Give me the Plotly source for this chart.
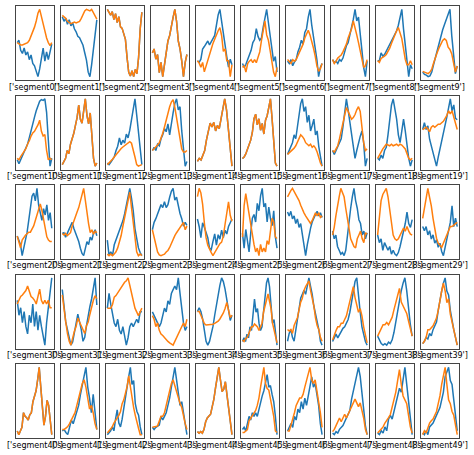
import plotly.graph_objects as go

segment_labels = ["['segment%d']" % i for i in range(50)]

blue_series = [
    [52,55,42,38,45,36,40,30,36,25,22,15,8,18,30,45,28,40,30,42,50],
    [86,80,84,76,82,74,78,70,66,60,58,52,48,38,28,12,6,22,40,62,82],
    [96,92,88,93,82,90,78,86,72,70,62,55,30,10,5,12,4,14,8,30,70,92],
    [40,45,32,38,15,28,10,25,35,55,62,75,85,95,80,55,45,30,10,28,38],
    [30,28,32,45,48,52,55,50,55,58,62,75,88,95,78,60,50,35,22,32,25],
    [25,20,24,30,34,42,52,56,70,60,55,58,72,82,95,78,62,45,28,34,14],
    [28,25,30,22,27,30,40,46,55,50,65,70,85,95,75,60,45,30,8,20,25],
    [30,26,28,25,30,28,32,40,48,52,62,70,82,95,80,85,60,40,20,8,28],
    [30,30,40,36,38,42,46,50,55,58,62,68,75,85,95,70,50,30,10,25,20],
    [12,9,8,6,7,12,22,32,42,52,60,68,75,82,88,95,60,35,10,20],
    [20,15,20,25,30,34,40,48,58,68,74,82,88,94,96,95,97,80,45,12,22],
    [12,16,20,30,26,38,44,52,62,72,88,70,65,80,96,75,64,78,50,20,10,14],
    [12,10,13,16,20,28,34,45,36,42,38,50,45,55,70,85,96,75,55,30,10],
    [30,34,30,38,36,45,50,58,54,64,50,66,78,90,96,82,86,55,32,10,16],
    [16,20,18,25,30,44,55,65,60,66,55,62,58,70,85,96,82,60,30,10],
    [18,20,24,30,34,42,52,70,76,62,70,55,64,50,68,74,85,96,70,40,12,8],
    [25,30,34,40,50,45,60,75,90,96,80,86,66,75,55,62,70,50,55,35,20,10],
    [30,25,30,35,40,45,60,75,96,82,65,50,32,20,30,40,48,55,40,10,20],
    [20,18,24,20,30,34,50,70,88,96,84,70,50,40,55,70,55,35,20,10,18],
    [55,64,55,60,42,32,22,14,6,18,28,38,48,62,72,84,96,80,88,70,68],
    [35,30,24,10,20,28,40,55,70,86,90,80,96,75,65,55,70,62,75,55,65,45],
    [35,36,30,35,40,46,50,42,36,30,24,15,8,5,14,24,20,30,26,36,40,32],
    [30,10,15,10,24,30,36,42,48,55,64,74,86,97,84,68,45,30,20,14,10],
    [40,50,55,62,68,74,70,78,70,74,84,92,96,80,84,70,62,55,45,50,46],
    [55,45,30,50,44,36,30,16,14,25,35,20,34,28,40,30,40,35,45,50,55],
    [35,15,40,25,10,35,55,60,50,75,65,85,95,70,75,50,70,55,45,65,30,15],
    [65,60,66,56,60,50,56,45,50,35,20,8,22,34,44,52,58,62,66,60,64,58],
    [40,30,35,20,15,10,12,8,15,35,55,70,85,96,80,70,55,50,35,40,30,38],
    [35,25,30,15,25,20,15,20,10,15,10,8,12,20,30,40,50,65,50,45,55],
    [50,45,50,40,45,35,40,30,34,25,30,20,15,25,34,44,55,75,50,60,50],
    [65,45,55,35,50,30,20,45,35,60,30,50,25,45,30,15,5,35,55,80,95],
    [82,60,40,30,20,10,14,25,40,50,40,30,15,20,35,50,60,70,85,97,62],
    [55,75,60,45,35,30,40,25,20,30,15,5,15,30,35,30,35,40,35,50,50],
    [50,45,40,35,30,35,45,55,50,65,60,75,80,85,80,96,75,55,35,25,30],
    [50,55,50,40,25,10,5,10,20,30,45,60,75,85,95,90,80,65,50,38,45],
    [10,15,10,20,15,30,25,50,68,50,55,35,25,30,50,75,90,97,85,60,35,40,20,5],
    [15,25,30,20,15,30,45,60,70,75,80,75,85,96,85,75,60,50,40,30,15,10],
    [10,15,20,15,20,25,28,30,35,40,50,65,80,92,97,70,50,30,20,10,5],
    [20,15,10,8,10,8,12,10,15,25,40,55,70,80,90,97,80,55,35,20],
    [12,15,20,18,25,22,30,35,40,55,70,80,90,97,80,75,55,40,30,20,10],
    [10,5,10,15,35,30,28,25,32,35,50,58,65,80,97,70,40,18,30,52,45,25,5],
    [10,12,8,5,15,25,20,28,35,45,60,75,85,97,70,55,35,60,38,12],
    [10,12,15,20,15,30,42,25,20,30,45,60,75,85,97,75,80,50,40,35,20,10],
    [15,12,15,16,18,30,25,30,35,45,55,70,85,97,80,65,45,50,35,20,5],
    [12,10,12,10,15,25,30,32,35,45,55,70,85,97,80,65,68,78,60,45,25,8],
    [12,15,10,20,30,25,35,30,35,30,40,50,58,65,75,87,70,72,60,50,30,5],
    [10,15,20,15,30,25,40,35,50,40,55,45,60,70,84,70,75,60,45,20,5],
    [10,8,12,10,15,18,20,25,30,35,40,55,65,75,85,97,85,60,40,20,8],
    [12,10,15,12,20,15,30,35,30,40,50,60,70,65,85,97,75,55,30,10],
    [12,10,15,10,20,22,25,30,35,40,45,55,65,85,90,97,80,75,55,35,15],
]

orange_series = [
    [52,50,49,49,50,51,52,55,60,66,72,80,90,95,85,75,66,58,52,48,52],
    [88,86,84,80,78,77,78,79,78,79,80,84,90,94,96,95,94,96,92,87,83],
    [96,92,88,93,82,90,78,86,72,70,62,55,30,10,5,12,4,14,8,30,70,92],
    [40,45,32,38,15,28,10,25,35,55,62,75,85,95,80,55,45,30,10,28,38],
    [30,27,22,28,16,24,30,38,45,52,58,62,68,72,62,42,45,30,30,10,25],
    [20,22,14,25,28,30,26,30,26,32,40,55,68,80,62,55,42,28,14,8,20],
    [30,28,25,30,28,30,35,40,45,50,58,63,68,62,55,45,35,22,15,18,25],
    [30,25,28,32,34,36,40,45,50,58,64,70,80,72,62,52,42,30,20,22,30],
    [30,28,33,34,36,38,42,46,52,58,64,68,72,66,58,45,32,25,25,30,25],
    [13,12,11,10,12,16,24,32,38,44,50,54,56,54,45,42,36,22,12,20],
    [22,20,24,27,30,34,40,44,50,54,56,60,64,70,56,50,52,32,20,22,20],
    [12,16,20,30,26,38,44,52,62,72,88,70,65,80,96,75,64,78,50,20,10,14],
    [10,12,14,17,20,23,26,29,31,33,35,36,38,40,38,30,20,10,8,9,10],
    [30,32,34,37,40,45,52,60,70,78,86,92,95,85,72,58,44,32,28,28,30],
    [16,20,18,25,30,44,55,65,60,66,55,62,58,70,85,96,82,60,30,10],
    [18,20,24,30,34,42,52,70,76,62,70,55,64,50,68,74,85,96,70,40,12,8],
    [25,27,28,30,33,36,40,46,50,48,45,40,38,36,38,34,36,33,28,20,14,10],
    [30,28,32,36,45,55,66,78,85,80,74,70,72,76,82,86,80,60,40,30,32],
    [20,25,28,32,35,38,37,36,38,36,37,38,36,38,37,35,32,26,20,18,20],
    [55,57,58,56,52,58,60,58,60,62,62,64,66,70,74,80,76,80,72,62,55],
    [35,28,20,30,34,36,38,40,40,44,48,55,62,70,76,68,58,44,34,30,28,28],
    [35,33,35,32,34,36,45,52,60,64,70,78,86,96,80,62,48,36,40,34,38,36],
    [12,10,12,10,12,15,20,28,36,48,60,72,84,92,72,50,30,15,10,12,10],
    [40,30,20,10,6,5,6,7,10,12,16,22,28,32,36,40,42,46,50,40,45],
    [85,96,90,75,50,30,20,14,10,6,10,15,18,22,24,32,48,66,78,60,52],
    [30,72,88,75,60,45,30,20,10,15,5,20,10,15,10,25,20,35,55,50,30,28],
    [85,90,93,96,92,90,86,80,74,68,64,60,56,52,50,54,60,64,60,64,58,60],
    [35,45,60,75,85,96,90,85,70,55,40,30,25,20,18,30,35,40,30,25,38,36],
    [35,60,80,88,92,96,85,70,50,35,30,28,30,34,38,44,40,46,40,36,35],
    [60,72,86,96,85,75,60,45,36,30,28,25,30,35,40,44,50,50,52,54,55],
    [60,65,70,72,75,78,84,75,70,68,65,60,70,80,65,60,65,60,65,55,55],
    [75,55,40,25,15,10,20,28,34,45,40,35,30,25,35,40,50,60,68,74,70],
    [55,55,55,60,70,72,76,80,84,88,90,92,96,86,75,65,55,50,45,50,55],
    [45,40,30,35,25,20,18,15,12,10,8,6,5,10,15,20,25,30,35,30,40],
    [50,50,45,38,34,32,32,32,33,33,34,35,37,40,44,48,54,62,52,42,45],
    [12,10,14,15,20,25,30,30,34,32,30,25,30,35,50,60,68,75,65,55,35,25,18,8],
    [30,28,30,25,35,40,45,55,65,70,80,85,88,92,80,70,60,45,35,30,20,15],
    [12,20,25,30,30,35,35,40,45,55,65,75,85,70,60,50,55,45,30,20,8],
    [20,25,30,35,35,38,35,40,45,55,65,75,83,65,60,55,50,40,30,20],
    [12,15,20,30,30,32,35,40,45,55,70,80,90,80,65,70,50,40,30,20,10],
    [10,5,10,15,35,30,28,25,32,35,50,58,65,80,97,70,40,18,30,52,45,25,5],
    [12,12,14,16,20,25,30,35,45,55,65,75,80,70,55,40,45,35,20,12],
    [12,15,18,20,25,28,32,35,40,50,55,62,72,86,70,55,45,35,25,18,10,10],
    [15,15,16,17,25,30,30,35,45,55,65,75,80,72,62,55,48,42,30,20,12],
    [12,10,12,10,15,25,30,32,35,45,55,70,85,97,80,65,68,78,60,45,25,8],
    [8,8,10,12,24,28,30,34,38,45,55,70,85,97,75,68,66,55,45,30,10,8],
    [10,10,18,25,35,45,50,55,55,60,70,80,90,97,80,75,80,65,55,35,15],
    [12,15,20,25,30,25,30,35,30,35,40,45,50,55,50,45,50,40,30,15,8],
    [12,15,18,20,25,28,32,36,45,55,65,80,94,75,60,55,50,35,20,12],
    [10,15,12,20,25,28,30,35,40,50,60,75,85,97,75,55,50,40,35,20,10],
]

BLUE = "#1f77b4"
ORANGE = "#ff7f0e"
W, H = 474, 455
NCOL, NROW = 10, 5
left0, pitch_x, box_w = 15.5, 45.05, 38.0
top0, pitch_y, box_h = 6.0, 89.5, 74.0

fig = go.Figure()
layout = dict(width=W, height=H, margin=dict(l=0, r=0, t=0, b=0),
              paper_bgcolor="white", plot_bgcolor="white", showlegend=False)
annotations = []

for k in range(50):
    r, c = divmod(k, NCOL)
    idx = "" if k == 0 else str(k + 1)
    x0 = left0 + c * pitch_x
    top = top0 + r * pitch_y
    xd = [x0 / W, (x0 + box_w) / W]
    yd = [(H - top - box_h) / H, (H - top) / H]
    b = blue_series[k]
    o = orange_series[k]
    xb = [i / (len(b) - 1) for i in range(len(b))]
    xo = [i / (len(o) - 1) for i in range(len(o))]
    fig.add_trace(go.Scatter(x=xb, y=b, mode="lines", line=dict(color=BLUE, width=1.5),
                             xaxis="x" + idx, yaxis="y" + idx, hoverinfo="skip"))
    fig.add_trace(go.Scatter(x=xo, y=o, mode="lines", line=dict(color=ORANGE, width=1.5),
                             xaxis="x" + idx, yaxis="y" + idx, hoverinfo="skip"))
    lo, hi = min(min(b), min(o)), max(max(b), max(o))
    pad = 0.05 * (hi - lo)
    common = dict(showgrid=False, zeroline=False, showticklabels=False, ticks="",
                  showline=True, mirror=True, linecolor="#444", linewidth=1, fixedrange=True)
    layout["xaxis" + idx] = dict(domain=xd, range=[-0.05, 1.05], anchor="y" + idx, **common)
    layout["yaxis" + idx] = dict(domain=yd, range=[lo - pad, hi + pad], anchor="x" + idx, **common)
    annotations.append(dict(text=segment_labels[k], xref="paper", yref="paper",
                            x=(x0 + box_w / 2) / W, y=(H - top - box_h - 7) / H,
                            xanchor="center", yanchor="middle", showarrow=False,
                            font=dict(family="DejaVu Sans", size=8, color="black")))

layout["annotations"] = annotations
fig.update_layout(**layout)
fig.write_html("out.html", config={"displayModeBar": False},
               post_script="document.body.style.margin='0';document.body.style.overflow='hidden';")
